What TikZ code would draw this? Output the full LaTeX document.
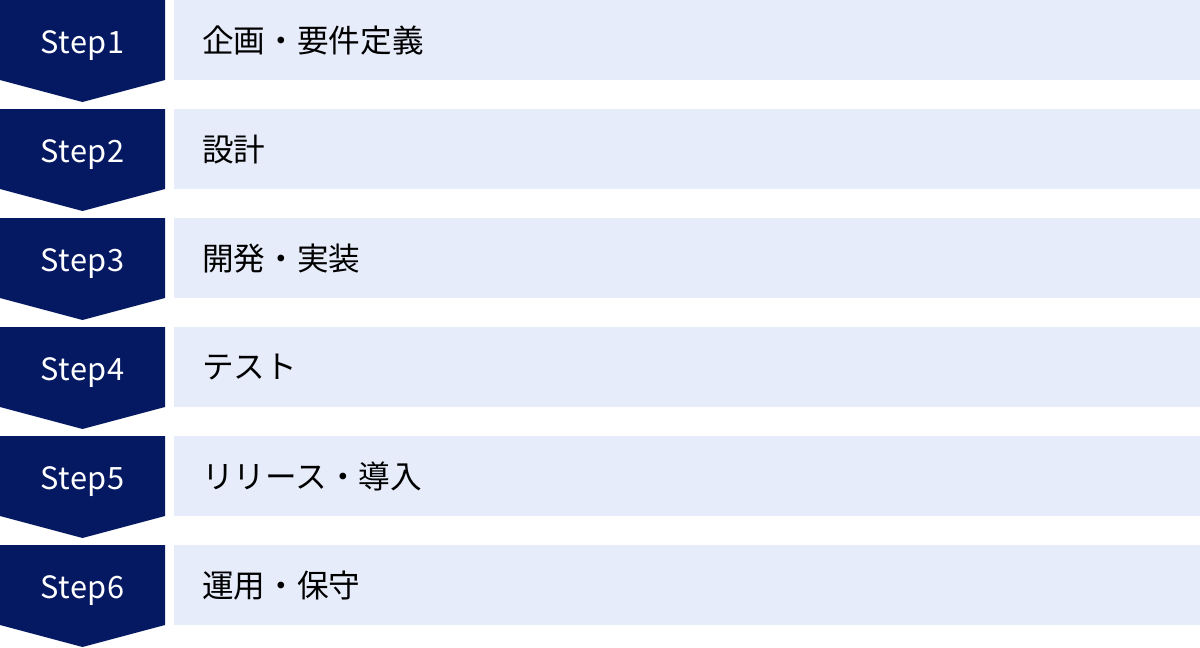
\documentclass[tikz,border=0pt]{standalone}
\usepackage{fontspec}
\usepackage{xcolor}
\newfontfamily\cjk{Noto Sans CJK JP}
\newfontfamily\stepfont[LetterSpace=2]{Noto Sans CJK JP}

\definecolor{stepblau}{RGB}{5,24,98}
\definecolor{feldblau}{RGB}{230,236,250}

\tikzset{
	steptext/.style={text=white, anchor=base, inner sep=0pt, font=\stepfont\fontsize{17.5}{20}\selectfont},
	feldbox/.style={fill=feldblau, anchor=north west, minimum width=20.52cm, minimum height=1.6cm,
		inner xsep=0.56cm, inner ysep=0pt, text width=19.4cm, align=left,
		font=\cjk\fontsize{18}{20}\selectfont}
}

\begin{document}
\begin{tikzpicture}[x=0.02cm,y=-0.02cm]
	% Rahmen festlegen
	\useasboundingbox (0,0) rectangle (1200,647);
	
	% Schritte zeichnen
	\foreach \i/\inhalt in {1/企画・要件定義, 2/設計, 3/開発・実装, 4/テスト, 5/リリース・導入, 6/運用・保守}{
		\pgfmathsetmacro{\oben}{(\i-1)*109}
		% Pfeil
		\fill[stepblau] (0,\oben) -- (165,\oben) -- (165,\oben+80) -- (82.5,\oben+102) -- (0,\oben+80) -- cycle;
		\node[steptext] (step\i) at (82.5,\oben+53) {Step\i};
		% Feld mit Beschreibung
		\node[feldbox] (feld\i) at (174,\oben) {\inhalt};
	}
\end{tikzpicture}
\end{document}
